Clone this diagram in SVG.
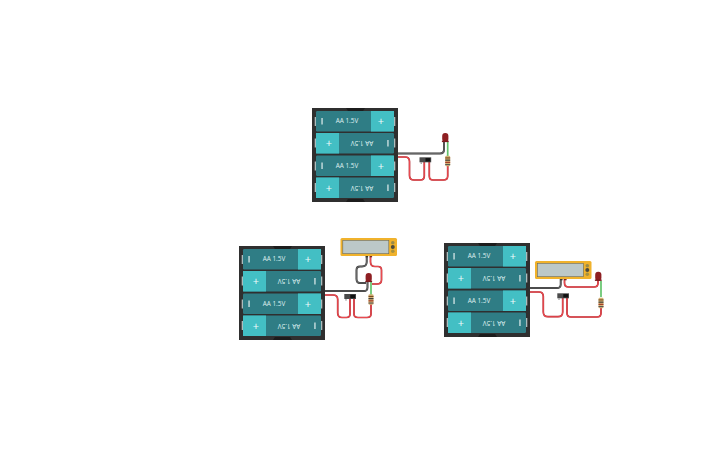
<svg xmlns="http://www.w3.org/2000/svg" xmlns:xlink="http://www.w3.org/1999/xlink" width="725" height="453" viewBox="0 0 725 453">
<style>
.wo{stroke:#b02a30;stroke-width:1.7;fill:none}
.r{fill:none;stroke:#ea4a50;stroke-width:1.1}
.k{fill:none;stroke:#666;stroke-width:1.2}
.ko{fill:none;stroke:#333;stroke-width:1.9}
.g{fill:none;stroke:#63c46c;stroke-width:1.7}
.t{font-family:"Open Sans","Liberation Sans",sans-serif;font-size:6.4px;fill:#dff0f0;text-anchor:middle}
.p{font-family:"Open Sans","Liberation Sans",sans-serif;font-size:11px;fill:#f2fbfb;text-anchor:middle}
</style>
<defs>
<g id="cell">
<rect x="0" y="0" width="78" height="20.5" rx="1.2" fill="#2f7d85"/>
<rect x="55" y="0" width="23" height="20.5" fill="#43bfc4"/>
<rect x="-1.3" y="6" width="1.3" height="9" fill="#aebcbc"/>
<rect x="78" y="6" width="1.3" height="9" fill="#aebcbc"/>
<rect x="5.400" y="7" width="1.300" height="6.500" fill="#d4e6e6"/>
</g>
<g id="pack">
<rect width="86" height="94" fill="#2f2f2f"/>
<path d="M34 0h19l-2 3h-15z" fill="#1c1c1c"/>
<path d="M34 94h19l-2 -3h-15z" fill="#1c1c1c"/>
<use xlink:href="#cell" x="4" y="3"/>
<use xlink:href="#cell" transform="rotate(180 43 35.250)" x="4" y="25"/>
<use xlink:href="#cell" x="4" y="47.500"/>
<use xlink:href="#cell" transform="rotate(180 43 79.750)" x="4" y="69.500"/>
<text class="t" x="35" y="15.300">AA 1.5V</text>
<text class="t" x="35" y="60">AA 1.5V</text>
<text class="t" transform="rotate(180 50 35.500)" x="50" y="37.800">AA 1.5V</text>
<text class="t" transform="rotate(180 50 80)" x="50" y="82.300">AA 1.5V</text>
<text class="p" x="69" y="17">+</text>
<text class="p" x="69" y="61.800">+</text>
<text class="p" x="17" y="39.200">+</text>
<text class="p" x="17" y="84">+</text>
</g>
<g id="meter">
<rect width="56.500" height="18" rx="1.500" fill="#f0b22c"/>
<rect x="2.300" y="2.300" width="46" height="13.400" fill="#bcc8c8" stroke="#6b6b5a" stroke-width="0.600"/>
<circle cx="52.300" cy="4.800" r="1.800" fill="#9a8a4a"/>
<circle cx="52.300" cy="9" r="2" fill="#4a4a40"/>
<circle cx="52.300" cy="13.300" r="1.800" fill="#a8923f"/>
<rect x="25" y="18" width="2.600" height="1.300" fill="#3a3a30"/>
<rect x="29" y="18" width="2.600" height="1.300" fill="#7a2a20"/>
</g>
<g id="led">
<rect x="-3.100" y="-4.800" width="6.200" height="9" rx="3" fill="#8e1f22"/>
<rect x="-3.400" y="3" width="6.800" height="1.400" fill="#7a1a1d"/>
</g>
<g id="res">
<rect x="-2.500" y="-5.300" width="5" height="10.600" rx="1.200" fill="#d4b477"/>
<rect x="-2.500" y="-3.600" width="5" height="1.100" fill="#7a4a20"/>
<rect x="-2.500" y="-1.400" width="5" height="1.100" fill="#333"/>
<rect x="-2.500" y="0.800" width="5" height="1.100" fill="#a03020"/>
<rect x="-2.500" y="3" width="5" height="1.100" fill="#555"/>
</g>
<g id="sw">
<rect x="0" y="0" width="11.700" height="5" fill="#4a4a4a"/>
<rect x="6" y="0.800" width="4.800" height="3.400" fill="#111"/>
<rect x="1.200" y="5" width="1" height="1.700" fill="#888"/>
</g>
</defs>

<g id="connectors">
<path class="ko" d="M398 153.500H440Q444 153.500 444 149.500V141"/>
<path class="k" d="M398 153.500H440Q444 153.500 444 149.500V141"/>
<path class="wo" d="M398 157H405Q409.500 157 409.500 161.500V175.500Q409.500 180 414 180H420.500Q424.300 180 424.300 176V162"/>
<path class="r" d="M398 157H405Q409.500 157 409.500 161.500V175.500Q409.500 180 414 180H420.500Q424.300 180 424.300 176V162"/>
<path class="wo" d="M429.300 162V176Q429.300 180 433 180H443.500Q447.700 180 447.700 176V166"/>
<path class="r" d="M429.300 162V176Q429.300 180 433 180H443.500Q447.700 180 447.700 176V166"/>
<path class="g" d="M447.700 142V156"/>

<path class="ko" d="M325 291H364Q367.500 291 367.500 287.500V280"/>
<path class="k" d="M325 291H364Q367.500 291 367.500 287.500V280"/>
<path class="ko" d="M366.700 257V262Q366.700 266.500 362 266.500H360Q356.500 266.500 356.500 270V279Q356.500 283 360 283H366"/>
<path class="k" d="M366.700 257V262Q366.700 266.500 362 266.500H360Q356.500 266.500 356.500 270V279Q356.500 283 360 283H366"/>
<path class="wo" d="M370.500 257V262Q370.500 266.500 375 266.500H378Q381.500 266.500 381.500 270V280Q381.500 284 377 284H372"/>
<path class="r" d="M370.500 257V262Q370.500 266.500 375 266.500H378Q381.500 266.500 381.500 270V280Q381.500 284 377 284H372"/>
<path class="wo" d="M325 295H333Q337.700 295 337.700 299.500V313Q337.700 317.500 342 317.500H346.500Q350 317.500 350 314V299"/>
<path class="r" d="M325 295H333Q337.700 295 337.700 299.500V313Q337.700 317.500 342 317.500H346.500Q350 317.500 350 314V299"/>
<path class="wo" d="M354 299V314Q354 317.500 358 317.500H367Q371 317.500 371 314V304"/>
<path class="r" d="M354 299V314Q354 317.500 358 317.500H367Q371 317.500 371 314V304"/>
<path class="g" d="M371 282V295"/>

<path class="ko" d="M530 288H557Q560.700 288 560.700 284.500V279"/>
<path class="k" d="M530 288H557Q560.700 288 560.700 284.500V279"/>
<path class="wo" d="M530 292H539Q543.300 292 543.300 296.500V312Q543.300 316.700 548 316.700H558Q562.700 316.700 562.700 312V298"/>
<path class="r" d="M530 292H539Q543.300 292 543.300 296.500V312Q543.300 316.700 548 316.700H558Q562.700 316.700 562.700 312V298"/>
<path class="wo" d="M567 298V313Q567 317 571 317H597Q601 317 601 313V307"/>
<path class="r" d="M567 298V313Q567 317 571 317H597Q601 317 601 313V307"/>
<path class="wo" d="M564.500 279V283Q564.500 287 568.500 287H594Q598 287 598 283V280"/>
<path class="r" d="M564.500 279V283Q564.500 287 568.500 287H594Q598 287 598 283V280"/>
<path class="g" d="M601 281V297"/>
</g>

<g id="pack1"><use xlink:href="#pack" x="312" y="108"/></g>
<g id="led1"><use xlink:href="#led" x="445.300" y="137.700"/></g>
<g id="res1"><use xlink:href="#res" x="447.700" y="161"/></g>
<g id="sw1"><use xlink:href="#sw" x="419.500" y="157.300"/></g>

<g id="pack2"><use xlink:href="#pack" x="239" y="246"/></g>
<g id="meter2"><use xlink:href="#meter" x="340.500" y="238"/></g>
<g id="led2"><use xlink:href="#led" x="368.700" y="277.700"/></g>
<g id="res2"><use xlink:href="#res" x="371" y="299.500"/></g>
<g id="sw2"><use xlink:href="#sw" x="344.300" y="294"/></g>

<g id="pack3"><use xlink:href="#pack" x="444" y="243"/></g>
<g id="meter3"><use xlink:href="#meter" x="535" y="261"/></g>
<g id="led3"><use xlink:href="#led" x="598.300" y="276.500"/></g>
<g id="res3"><use xlink:href="#res" x="601" y="303"/></g>
<g id="sw3"><use xlink:href="#sw" x="557.300" y="293.300"/></g>
</svg>
